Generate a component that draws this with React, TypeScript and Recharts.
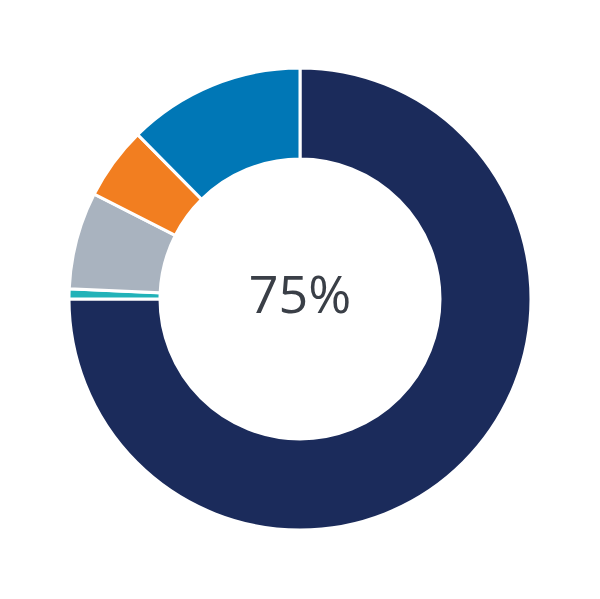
import React from "react";
import { PieChart, Pie, Cell } from "recharts";

const categories = ["Navy", "Teal", "Gray", "Orange", "Blue"];
const values = [75, 0.7, 6.8, 5.1, 12.4];
const colors = ["#1b2b5b", "#22b2b8", "#a9b3bf", "#f27e20", "#0077b6"];
const centerLabel = "75%";

const data = categories.map((name, i) => ({ name, value: values[i] }));

export default function App() {
  return (
    <div style={{ position: "absolute", left: 0, top: 0, width: 600, height: 599, background: "#fff" }}>
      <PieChart width={600} height={599} margin={{ top: 0, right: 0, bottom: 0, left: 0 }}>
        <Pie
          data={data}
          dataKey="value"
          nameKey="name"
          cx={300}
          cy={299}
          innerRadius={140}
          outerRadius={231}
          startAngle={90}
          endAngle={-270}
          stroke="#ffffff"
          strokeWidth={3}
          isAnimationActive={false}
        >
          {data.map((d, i) => (
            <Cell key={d.name} fill={colors[i]} />
          ))}
        </Pie>
        <text
          x={300}
          y={292}
          textAnchor="middle"
          dominantBaseline="central"
          fontFamily="'Open Sans', sans-serif"
          fontSize={52}
          fill="#3a3f47"
        >
          {centerLabel}
        </text>
      </PieChart>
    </div>
  );
}
